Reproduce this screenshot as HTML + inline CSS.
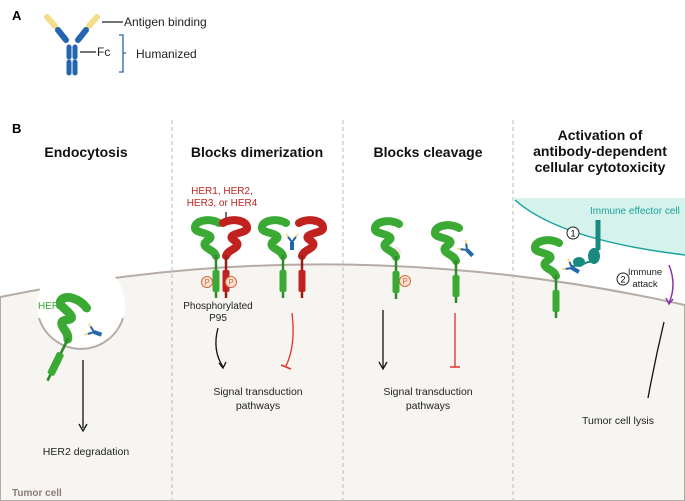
<!DOCTYPE html>
<html><head><meta charset="utf-8"><style>
body{margin:0;background:#fff}
svg{display:block;font-family:"Liberation Sans",Arial,sans-serif}
</style></head><body>
<svg width="685" height="501" viewBox="0 0 685 501">
<defs>
<g id="rg">
 <path d="M3,-47 C-6,-52 -20,-50 -21,-43 C-22,-37 -10,-38 -6,-34 C-3,-30 -14,-29 -11,-24 C-8,-20 -2,-20 0,-14" fill="none" stroke="#3aaa35" stroke-width="8" stroke-linecap="round" stroke-linejoin="round"/>
 <path d="M0,-15 L0,28" stroke="#2f8a2c" stroke-width="2.5"/>
 <rect x="-3.5" y="0" width="7" height="22" rx="2" fill="#3aaa35"/>
</g>
<g id="rr">
 <path d="M-3,-47 C6,-52 20,-50 21,-43 C22,-37 10,-38 6,-34 C3,-30 14,-29 11,-24 C8,-20 2,-20 0,-14" fill="none" stroke="#c0231f" stroke-width="8" stroke-linecap="round" stroke-linejoin="round"/>
 <path d="M0,-15 L0,28" stroke="#9a1c18" stroke-width="2.5"/>
 <rect x="-3.5" y="0" width="7" height="22" rx="2" fill="#c0231f"/>
</g>
<g id="ab">
 <path d="M-6,-8 L-2,-3 M6,-8 L2,-3" stroke="#f3dc8a" stroke-width="2"/>
 <path d="M-4,-5 L0,0 M4,-5 L0,0 M-1,0 L-1,8 M1,0 L1,8" stroke="#2465b0" stroke-width="2"/>
</g>
</defs>

<!-- tumor cell -->
<path d="M0,297 Q340,228 685,305 L685,501 L0,501 Z" fill="#f7f5f2" stroke="#b5aca6" stroke-width="2"/>
<!-- endocytosis bubble -->
<circle cx="81" cy="305" r="44" fill="#fff"/>
<path d="M39,318 A44,44 0 0 0 123,318" fill="none" stroke="#b5aca6" stroke-width="2"/>
<!-- immune effector cell -->
<path d="M515,200 Q560,240 685,255 L685,120 L515,120 Z" fill="#d5f3ec"/>
<path d="M515,200 Q560,240 685,255" fill="none" stroke="#1aa39a" stroke-width="1.5"/>
<rect x="514" y="120" width="171" height="78" fill="#fff"/>

<!-- dividers -->
<g stroke="#bbb" stroke-dasharray="4,3"><line x1="172" y1="120" x2="172" y2="501"/><line x1="343" y1="120" x2="343" y2="501"/><line x1="513" y1="120" x2="513" y2="501"/></g>

<!-- A antibody -->
<g stroke-linecap="round">
<path d="M47,17 L55,26 M97,17 L89,26" stroke="#f3dc8a" stroke-width="6"/>
<path d="M58,30 L66,40 M86,30 L78,40" stroke="#2465b0" stroke-width="6"/>
<path d="M69,47 L69,57 M75,47 L75,57 M69,62 L69,73 M75,62 L75,73" stroke="#2465b0" stroke-width="5"/>
</g>
<path d="M102,22 L123,22 M80,52 L96,52" stroke="#222" stroke-width="1.2"/>
<path d="M119,35 L123,35 L123,72 L119,72 M123,53 L126,53" fill="none" stroke="#2465b0" stroke-width="1.3"/>
<g font-size="12" fill="#222">
<text x="124" y="26">Antigen binding</text><text x="97" y="56">Fc</text><text x="136" y="58">Humanized</text>
</g>
<text x="12" y="20" font-size="13" font-weight="bold">A</text>
<text x="12" y="133" font-size="13" font-weight="bold">B</text>

<!-- headers -->
<g font-size="14" font-weight="bold" text-anchor="middle" fill="#111">
<text x="86" y="157">Endocytosis</text>
<text x="257" y="157">Blocks dimerization</text>
<text x="428" y="157">Blocks cleavage</text>
<text x="600" y="140">Activation of</text>
<text x="600" y="156">antibody-dependent</text>
<text x="600" y="172">cellular cytotoxicity</text>
</g>

<!-- Endocytosis -->
<text x="38" y="309" font-size="10" fill="#3aaa35">HER2</text>
<g transform="translate(61,353) rotate(26) scale(1.1)"><use href="#rg"/></g>
<g transform="translate(94,332) rotate(-70)"><use href="#ab"/></g>
<line x1="83" y1="360" x2="83" y2="428" stroke="#111" stroke-width="1.3"/>
<path d="M79,424 L83,431 L87,424" fill="none" stroke="#111" stroke-width="1.3"/>
<text x="86" y="455" font-size="10.5" text-anchor="middle" fill="#222">HER2 degradation</text>

<!-- Dimerization -->
<text x="222" y="194" font-size="10" fill="#c0231f" text-anchor="middle">HER1, HER2,</text>
<text x="222" y="206" font-size="10" fill="#c0231f" text-anchor="middle">HER3, or HER4</text>
<line x1="226" y1="212" x2="226" y2="222" stroke="#111" stroke-width="1.2"/>
<g transform="translate(216,270)"><use href="#rg"/></g>
<g transform="translate(226,270)"><use href="#rr"/></g>
<g font-size="8" fill="#d9693a" text-anchor="middle">
<circle cx="207" cy="282" r="5.5" fill="#fbe3d6" stroke="#d9693a"/><text x="207" y="285">P</text>
<circle cx="231" cy="282" r="5.5" fill="#fbe3d6" stroke="#d9693a"/><text x="231" y="285">P</text>
</g>
<text x="218" y="309" font-size="10" text-anchor="middle" fill="#222">Phosphorylated</text>
<text x="218" y="321" font-size="10" text-anchor="middle" fill="#222">P95</text>
<path d="M218,328 Q212,350 223,367" fill="none" stroke="#111" stroke-width="1.3"/>
<path d="M219,363 L223,368 L226,362" fill="none" stroke="#111" stroke-width="1.3"/>
<g transform="translate(283,270)"><use href="#rg"/></g>
<g transform="translate(302,270)"><use href="#rr"/></g>
<g transform="translate(292,242)"><use href="#ab"/></g>
<path d="M292,313 Q296,345 286,366" fill="none" stroke="#e0302a" stroke-width="1.3"/>
<path d="M281,365 L291,369" stroke="#e0302a" stroke-width="1.5"/>
<text x="258" y="395" font-size="10.5" text-anchor="middle" fill="#222">Signal transduction</text>
<text x="258" y="409" font-size="10.5" text-anchor="middle" fill="#222">pathways</text>

<!-- Cleavage -->
<circle cx="396" cy="252" r="5" fill="#fbe3e6"/>
<g transform="translate(396,271)"><use href="#rg"/></g>
<g font-size="8" fill="#d9693a" text-anchor="middle"><circle cx="405" cy="281" r="5.5" fill="#fbe3d6" stroke="#d9693a"/><text x="405" y="284">P</text></g>
<g transform="translate(456,275)"><use href="#rg"/></g>
<g transform="translate(467,250) rotate(-45)"><use href="#ab"/></g>
<line x1="383" y1="310" x2="383" y2="368" stroke="#111" stroke-width="1.3"/>
<path d="M379,362 L383,369 L387,362" fill="none" stroke="#111" stroke-width="1.3"/>
<line x1="455" y1="313" x2="455" y2="367" stroke="#e0302a" stroke-width="1.3"/>
<line x1="450" y1="367" x2="460" y2="367" stroke="#e0302a" stroke-width="1.5"/>
<text x="428" y="395" font-size="10.5" text-anchor="middle" fill="#222">Signal transduction</text>
<text x="428" y="409" font-size="10.5" text-anchor="middle" fill="#222">pathways</text>

<!-- ADCC -->
<text x="590" y="214" font-size="10" fill="#1aa39a">Immune effector cell</text>
<circle cx="573" cy="233" r="6" fill="#fff" stroke="#222"/><text x="573" y="236.5" font-size="9" text-anchor="middle">1</text>
<g transform="translate(556,290)"><use href="#rg"/></g>
<path d="M598,220 L598,250" stroke="#1a8a80" stroke-width="5"/>
<path d="M598,250 Q596,262 588,262 Q580,266 572,266" fill="none" stroke="#1a8a80" stroke-width="2"/>
<ellipse cx="594" cy="256" rx="6" ry="8" fill="#1a8a80"/><ellipse cx="579" cy="262" rx="6" ry="5" fill="#1a8a80"/>
<g transform="translate(572,268) rotate(-60)"><use href="#ab"/></g>
<circle cx="623" cy="279" r="6" fill="#fff" stroke="#222"/><text x="623" y="282.5" font-size="9" text-anchor="middle">2</text>
<text x="645" y="275" font-size="9.5" text-anchor="middle" fill="#222">Immune</text>
<text x="645" y="287" font-size="9.5" text-anchor="middle" fill="#222">attack</text>
<path d="M669,265 Q677,285 669,303" fill="none" stroke="#8b36b0" stroke-width="1.5"/>
<path d="M666,298 L669,304 L673,299" fill="none" stroke="#8b36b0" stroke-width="1.5"/>
<path d="M664,322 Q655,360 648,398" fill="none" stroke="#111" stroke-width="1.3"/>
<text x="618" y="424" font-size="10.5" text-anchor="middle" fill="#222">Tumor cell lysis</text>

<text x="12" y="496" font-size="10" font-weight="bold" fill="#8a7d72">Tumor cell</text>
</svg>
</body></html>
